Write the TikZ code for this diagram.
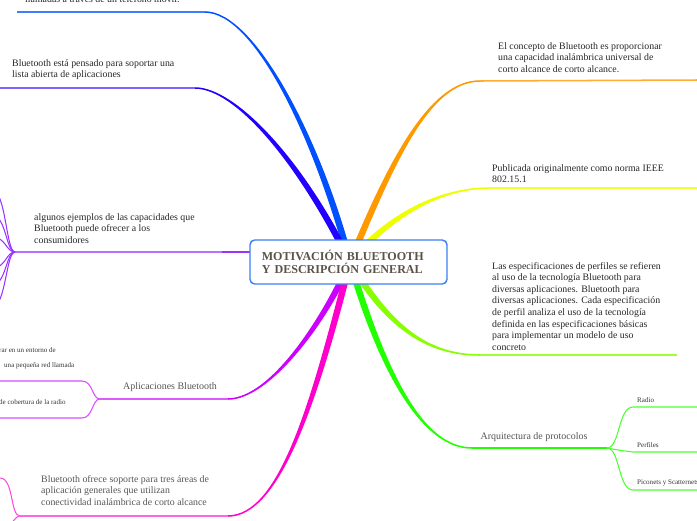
\documentclass[tikz,border=0pt]{standalone}
\usepackage{fontspec}
\setmainfont{Liberation Serif}
\usetikzlibrary{calc}
\definecolor{brblue}{HTML}{0050FF}
\definecolor{brindigo}{HTML}{2200FF}
\definecolor{brpurple}{HTML}{9933FF}
\definecolor{brviolet}{HTML}{CC00FF}
\definecolor{brmagenta}{HTML}{FF00CC}
\definecolor{brorange}{HTML}{FF9900}
\definecolor{bryellow}{HTML}{EEFF00}
\definecolor{brlime}{HTML}{88FF00}
\definecolor{brgreen}{HTML}{22FF00}
\definecolor{hubtext}{RGB}{92,82,72}
\definecolor{hubline}{HTML}{3D7EF2}
\definecolor{softtext}{RGB}{85,85,85}

% tapered branch: colour, start, control 1, control 2, end
\newcommand{\bough}[5]{%
  \fill[#1] ($(#2)!2.8pt!90:(#3)$) .. controls ($(#3)!2.8pt!-90:(#2)$) and ($(#4)!0.65pt!90:(#5)$) .. ($(#5)!0.65pt!-90:(#4)$)
    -- ($(#5)!0.65pt!90:(#4)$) .. controls ($(#4)!0.65pt!-90:(#5)$) and ($(#3)!2.8pt!90:(#2)$) .. ($(#2)!2.8pt!-90:(#3)$) -- cycle;}

\begin{document}
\begin{tikzpicture}[x=0.03cm, y=-0.03cm,
  hub/.style={draw=hubline, line width=1.2pt, rounded corners=4pt, fill=white, text=hubtext,
    font=\bfseries\fontsize{10.3}{11.2}\selectfont, align=left, text width=5.2cm, inner xsep=0.355cm, minimum height=1.32cm},
  txt/.style={font=\fontsize{8.4}{9.9}\selectfont, align=left, inner sep=0pt, text=black!85},
  soft/.style={font=\fontsize{8.5}{10}\selectfont, inner sep=0pt, text=softtext},
  tiny/.style={font=\fontsize{6}{7}\selectfont, inner sep=0pt, text=black!80},
  leaf/.style={line width=1.3pt},
  twig/.style={line width=0.9pt}]
  \useasboundingbox (0,0) rectangle (697,520);
  \coordinate (o) at (350,262);
  \coordinate (oW) at (300,252);
  % junctions and ends
  \coordinate (jMovil) at (205,12);      \coordinate (eMovil) at (17,12);
  \coordinate (jLista) at (195,88);      \coordinate (eLista) at (0,88);
  \coordinate (jEjemplos) at (15,252);   \coordinate (kEjemplos) at (222,252);
  \coordinate (jAplic) at (228,399);     \coordinate (kAplic) at (100,399);
  \coordinate (jAreas) at (228,516);     \coordinate (kAreas) at (20,516);
  \coordinate (jConcepto) at (480,81);   \coordinate (eConcepto) at (697,80);
  \coordinate (jIeee) at (490,188);      \coordinate (eIeee) at (697,188);
  \coordinate (jPerfiles) at (480,355);  \coordinate (ePerfiles) at (677,355);
  \coordinate (jArq) at (472,448);       \coordinate (kArq) at (607,448);

  % main branches
  \bough{brblue}{o}{318,140}{255,12}{jMovil}
  \bough{brindigo}{o}{300,160}{235,88}{jLista}
  \bough{brviolet}{o}{325,320}{270,399}{jAplic}
  \bough{brmagenta}{o}{315,400}{280,516}{jAreas}
  \bough{brorange}{o}{392,160}{430,81}{jConcepto}
  \bough{bryellow}{o}{390,215}{440,188}{jIeee}
  \bough{brlime}{o}{390,330}{430,355}{jPerfiles}
  \bough{brgreen}{o}{385,380}{425,448}{jArq}
  \draw[line width=2.4pt, brpurple] (oW) -- (kEjemplos);

  % leaf lines
  \draw[leaf, brblue!75!white] (jMovil) -- (eMovil);
  \draw[leaf, brindigo!60!white] (jLista) -- (eLista);
  \draw[leaf, brpurple!70!white] (kEjemplos) -- (jEjemplos);
  \draw[leaf, brviolet!65!white] (jAplic) -- (kAplic);
  \draw[leaf, brmagenta!60!white] (jAreas) -- (kAreas);
  \draw[leaf, brorange!80!white] (jConcepto) -- (eConcepto);
  \draw[leaf, bryellow!80!white] (jIeee) -- (eIeee);
  \draw[leaf, brlime!80!white] (jPerfiles) -- (ePerfiles);
  \draw[leaf, brgreen] (jArq) -- (kArq);

  % sub-branches
  \foreach \yy in {190,215,237,268,285,307}
    \draw[twig, brpurple] (jEjemplos) .. controls (6,252) and (6,\yy) .. (-8,\yy);
  \draw[twig, brviolet!70!white] (kAplic) .. controls (92,399) and (93,381) .. (82,381) -- (0,381);
  \draw[twig, brviolet!70!white] (kAplic) .. controls (92,399) and (93,418) .. (82,418) -- (0,418);
  \draw[twig, brmagenta!70!white] (kAreas) .. controls (10,516) and (14,478) .. (0,478);
  \draw[twig, brmagenta!70!white] (kAreas) .. controls (14,516) and (10,530) .. (0,532);
  \draw[twig, brgreen!80!white] (kArq) .. controls (620,448) and (618,407) .. (633,407) -- (697,407);
  \draw[twig, brgreen!80!white] (kArq) .. controls (618,450) .. (633,452) -- (697,452);
  \draw[twig, brgreen!80!white] (kArq) .. controls (620,448) and (618,490) .. (633,490) -- (697,490);

  % centre
  \node[hub] (hub) at (348.5,262) {MOTIVACIÓN BLUETOOTH\\Y DESCRIPCIÓN GENERAL};

  % texts
  \node[txt, anchor=base west] (movil) at (25,2) {llamadas a través de un teléfono móvil.};
  \node[txt, anchor=north west] (lista) at (12,59) {Bluetooth está pensado para soportar una\\lista abierta de aplicaciones};
  \node[txt, anchor=north west] (ejemplos) at (34,213) {algunos ejemplos de las capacidades que\\Bluetooth puede ofrecer a los\\consumidores};
  \node[soft] (aplic) at (170,387) {Aplicaciones Bluetooth};
  \node[txt, text=softtext, anchor=north west] (areas) at (41,475) {Bluetooth ofrece soporte para tres áreas de\\aplicación generales que utilizan\\conectividad inalámbrica de corto alcance};
  \node[txt, anchor=north west] (concepto) at (498,42) {El concepto de Bluetooth es proporcionar\\una capacidad inalámbrica universal de\\corto alcance de corto alcance.};
  \node[txt, anchor=north west] (ieee) at (492,164) {Publicada originalmente como norma IEEE\\802.15.1};
  \node[txt, anchor=north west] (perfiles) at (492,262) {Las especificaciones de perfiles se refieren\\al uso de la tecnología Bluetooth para\\diversas aplicaciones. Bluetooth para\\diversas aplicaciones. Cada especificación\\de perfil analiza el uso de la tecnología\\definida en las especificaciones básicas\\para implementar un modelo de uso\\concreto};
  \node[soft] (arq) at (534,437) {Arquitectura de protocolos};
  \node[tiny, anchor=west] (radio) at (637,400) {Radio};
  \node[tiny, anchor=west] (perf) at (637,445) {Perfiles};
  \node[tiny, anchor=west] (picon) at (637,483) {Piconets y Scatternets};
  \node[tiny, anchor=west] (entorno) at (-1,350) {rar en un entorno de};
  \node[tiny, anchor=west] (pequena) at (4,366) {una pequeña red llamada};
  \node[tiny, anchor=west] (cobertura) at (-1,402) {de cobertura de la radio};
\end{tikzpicture}
\end{document}
